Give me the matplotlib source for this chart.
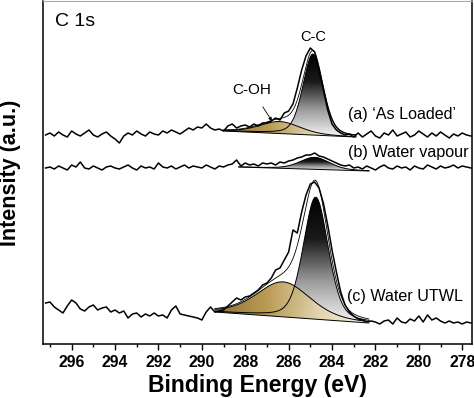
import numpy as np
import matplotlib
matplotlib.use('Agg')
import matplotlib.pyplot as plt
from matplotlib.colors import LinearSegmentedColormap
from matplotlib.patches import PathPatch

plt.rcParams['font.family'] = ['Liberation Sans', 'DejaVu Sans']

# binding energy grid of the raw spectra (eV), 0.2 eV step
energy = np.linspace(297.2, 277.6, 99)

# raw spectra (a.u., already offset)
spec_a = [209, 211, 208, 212, 209, 207, 213, 210, 208, 211, 214, 209, 207, 210, 212, 208, 205, 201,
          208, 211, 209, 213, 210, 208, 212, 210, 209, 213, 211, 214, 212, 210, 213, 216, 214, 217,
          216, 220, 216, 214, 215, 213, 218, 220, 216, 218, 219, 217, 220, 218, 221,
          221, 223, 226, 224, 231, 233, 240, 256, 274, 288, 296, 292, 274, 254, 234, 220, 214, 211,
          209, 210, 207,
          211, 207, 210, 213, 208, 206, 211, 209, 214, 208, 210, 212, 207, 209, 213, 210, 207, 211,
          208, 212, 209, 206, 210, 208, 211, 209, 208]
spec_b = [176, 177, 175, 178, 176, 174, 179, 177, 182, 176, 175, 178, 176, 174, 177, 178, 176, 175,
          177, 179, 176, 174, 178, 176, 177, 175, 181, 177, 176, 178, 175, 177, 179, 176, 178, 177,
          176, 179, 177, 175, 178, 177, 179, 180, 184, 178, 181, 179, 180, 178, 181,
          180, 181, 179, 182, 181, 183, 184, 186, 187, 189, 189, 191, 188, 187, 185, 183, 181, 179,
          178, 179, 176,
          177, 175, 178, 176, 174, 177, 179, 176, 175, 178, 176, 177, 174, 178, 176, 175, 179, 177,
          175, 178, 176, 177, 179, 176, 178, 177, 176]
spec_c = [41, 42, 37, 34, 31, 38, 44, 41, 35, 33, 37, 39, 34, 36, 37, 32, 34, 31, 33, 26,
          30, 31, 27, 30, 28, 31, 28, 29, 26, 34, 38, 30, 29, 28, 27, 26, 24, 32, 37, 32,
          33, 34, 38, 42, 46, 44, 47, 48, 51, 54, 59, 61, 66, 74, 76, 84, 92, 114, 111, 132,
          149, 160, 162, 156, 141, 119, 94, 72, 52, 39, 32, 28, 25, 24, 22, 23, 22, 20, 23, 24,
          20, 26, 22, 21, 25, 23, 28, 22, 29, 24, 26, 23, 21, 23, 21, 22, 20, 22, 21]

# fitted components: centre (eV), FWHM (eV), height (a.u.), Lorentzian fraction
a_cc = [284.88, 1.1, 81, 0.3]
a_coh = [286.40, 2.2, 12, 0.3]
a_base_e = [289.0, 282.9]
a_base_i = [213, 207]

b_cc = [284.80, 1.6, 12, 0.3]
b_base_e = [288.3, 282.3]
b_base_i = [177, 173]

c_cc = [284.75, 1.35, 122, 0.3]
c_coh = [286.25, 2.9, 35, 0.3]
c_base_e = [289.4, 282.3]
c_base_i = [32, 21]

cc_cmap = LinearSegmentedColormap.from_list('cc', ['#f6f6f6', '#9a9a9a', '#1a1a1a', '#000000'])
coh_cmap = LinearSegmentedColormap.from_list('coh', ['#7e601c', '#b08d3c', '#e2d3a8', '#f7f2e6'])


def peak(e, p):
    x = (e - p[0]) / (p[1] / 2)
    gauss = np.exp(-np.log(2) * x ** 2)
    lor = 1 / (1 + x ** 2)
    return p[2] * ((1 - p[3]) * gauss + p[3] * lor)


def component(ax, e, base, comp, cmap, vertical, z, alpha=1.0):
    top = base + comp
    poly = ax.fill_between(e, base, top, facecolor='none', edgecolor='none')
    patch = PathPatch(poly.get_paths()[0], transform=ax.transData, facecolor='none', edgecolor='none')
    ax.add_patch(patch)
    if vertical:
        grad = np.linspace(0, 1, 256).reshape(-1, 1)
    else:
        grad = np.linspace(0, 1, 256).reshape(1, -1)
    img = ax.imshow(grad, extent=[e[0], e[-1], base.min(), top.max()], origin='lower',
                    cmap=cmap, aspect='auto', zorder=z, alpha=alpha, interpolation='bilinear')
    img.set_clip_path(patch)
    ax.plot(e, top, color='k', lw=0.7, zorder=z + 2)
    return top


def fitted(ax, base_e, base_i, cc, coh=None):
    e = np.linspace(base_e[0], base_e[1], 300)
    base = np.interp(e, base_e[::-1], base_i[::-1])
    env = base + peak(e, cc)
    component(ax, e, base, peak(e, cc), cc_cmap, True, 2)
    if coh is not None:
        component(ax, e, base, peak(e, coh), coh_cmap, False, 3, alpha=0.88)
        env = env + peak(e, coh)
        ax.plot(e, env, color='k', lw=0.6, zorder=5)
    ax.plot(e, base, color='k', lw=0.7, zorder=5)


fig = plt.figure(figsize=(4.74, 3.98), dpi=100)
ax = fig.add_axes([43 / 474, 54 / 398, 429 / 474, 343 / 398])

fitted(ax, a_base_e, a_base_i, a_cc, a_coh)
fitted(ax, b_base_e, b_base_i, b_cc)
fitted(ax, c_base_e, c_base_i, c_cc, c_coh)

for s in (spec_a, spec_b, spec_c):
    ax.plot(energy, s, color='k', lw=1.1, zorder=6)

ax.text(296.75, 322, 'C 1s', fontsize=14, va='center', ha='left')
ax.text(284.88, 307, 'C-C', fontsize=10.5, va='center', ha='center')
ax.annotate('C-OH', xy=(286.77, 223), xytext=(287.69, 254), fontsize=11, ha='center', va='center',
            arrowprops=dict(arrowstyle='-|>', lw=0.6, color='k', mutation_scale=5, shrinkA=6, shrinkB=0))
ax.text(283.28, 229, '(a) \u2018As Loaded\u2019', fontsize=11.6, va='center', ha='left')
ax.text(283.28, 191, '(b) Water vapour', fontsize=11.6, va='center', ha='left')
ax.text(283.30, 47, '(c) Water UTWL', fontsize=11.6, va='center', ha='left')

ax.set_xlim(297.32, 277.55)
ax.set_ylim(0, 343)
ax.set_xticks(np.arange(296, 277, -2))
ax.set_xticks(np.arange(297, 277, -2), minor=True)
ax.set_yticks([])
ax.tick_params(axis='x', which='major', direction='out', length=4, width=1, pad=4, labelsize=11.3)
ax.tick_params(axis='x', which='minor', direction='out', length=2.5, width=1)
for lab in ax.get_xticklabels():
    lab.set_fontweight('bold')
for side in ('left', 'right', 'bottom'):
    ax.spines[side].set_linewidth(1.1)
ax.spines['top'].set_color('#aaaaaa')

ax.set_xlabel('Binding Energy (eV)', fontsize=16.6, fontweight='bold', labelpad=3)
ax.set_ylabel('Intensity (a.u.)', fontsize=15.5, fontweight='bold')
ax.yaxis.set_label_coords(-22 / 429, 0.5)

fig.savefig('out.png', dpi=100)
